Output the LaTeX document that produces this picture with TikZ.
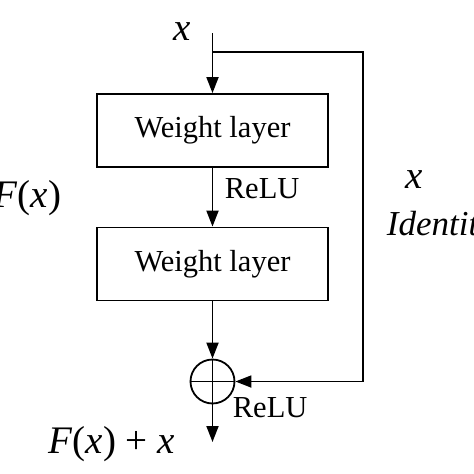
\documentclass[tikz,border=0pt]{standalone}
\usepackage{fontspec}
\setmainfont{Liberation Serif}
\usetikzlibrary{arrows.meta}
\begin{document}
\begin{tikzpicture}[x=1pt,y=-1pt, line width=1.8pt,
  layer/.style={draw, minimum width=231pt, minimum height=73pt, inner sep=0pt, font=\fontsize{30.5}{36}\selectfont},
  lbl/.style={font=\fontsize{30.5}{36}\selectfont, inner sep=0pt},
  mlbl/.style={font=\fontsize{39}{46}\selectfont\itshape, inner sep=0pt},
  idlbl/.style={font=\fontsize{35}{42}\selectfont\itshape, inner sep=0pt},
  arr/.style={-{Triangle[length=16pt,width=12pt]}},
  sumnode/.style={draw, circle, minimum size=44pt, inner sep=0pt}]
\useasboundingbox (0,0) rectangle (474,474);
\clip (0,0) rectangle (474,474);
\node[layer] (w1) at (212.5,130.5) {Weight layer};
\node[layer] (w2) at (212.5,264) {Weight layer};
\node[sumnode] (s) at (212.5,381.5) {};
\coordinate (in) at (212.5,33);
\coordinate (br) at (212.5,52);
\coordinate (rc) at (363,52);
\coordinate (rb) at (363,381.5);
\coordinate (out) at (212.5,442);
\draw[arr] (in) -- (w1);
\draw (br) -- (rc) -- (rb);
\draw[arr] (rb) -- (s.east);
\draw[arr] (w1) -- (w2);
\draw[arr] (w2) -- (s);
\draw (s.north) -- (s.south);
\draw (s.west) -- (s.east);
\draw[arr] (s.south) -- (out);
\node[mlbl, anchor=base] (xin) at (182,40) {x};
\node[lbl, anchor=base west] (r1) at (224,198) {ReLU};
\node[lbl, anchor=base west] (r2) at (232,417) {ReLU};
\node[mlbl, anchor=base east] (fx) at (62,207) {F\upshape(\itshape x\upshape)};
\node[mlbl, anchor=base west] (fxx) at (48,453) {F\upshape(\itshape x\upshape) + \itshape x};
\node[mlbl, anchor=base] (xr) at (414,188) {x};
\node[idlbl, anchor=base west] (id) at (386,235) {Identity};
\end{tikzpicture}
\end{document}
